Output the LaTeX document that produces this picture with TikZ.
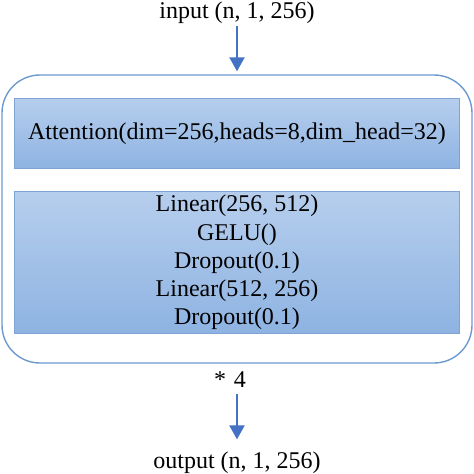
\documentclass[tikz,border=0pt]{standalone}
\usepackage{fontspec}
\setmainfont{Liberation Serif}
\usetikzlibrary{arrows.meta}

\definecolor{framecol}{RGB}{108,153,208}
\definecolor{boxline}{RGB}{126,164,214}
\definecolor{boxtop}{RGB}{182,206,237}
\definecolor{boxbottom}{RGB}{142,179,226}
\definecolor{flowcol}{RGB}{68,114,196}

\begin{document}
\begin{tikzpicture}[
x=1pt,y=1pt,
font=\fontsize{24}{28.3}\selectfont,
layerbox/.style={
draw=boxline,
line width=1pt,
top color=boxtop,
bottom color=boxbottom,
minimum width=445pt,
align=center,
anchor=north
},
label/.style={inner sep=0pt,anchor=base},
flow/.style={
draw=flowcol,
line width=2.4pt,
-{Triangle[width=15pt,length=14pt]}
}
]

\useasboundingbox (-237,219) rectangle (237,-255);

%%%%%%%%%%%%%%%%%%%%%%%%%%%%%%%%%%%%%%%%%%%%%%%%%%%%%%%%%%%%
% OUTER FRAME
%%%%%%%%%%%%%%%%%%%%%%%%%%%%%%%%%%%%%%%%%%%%%%%%%%%%%%%%%%%%

\node[
draw=framecol,
line width=1.4pt,
rounded corners=38pt,
minimum width=470pt,
minimum height=288pt
](frame){};

%%%%%%%%%%%%%%%%%%%%%%%%%%%%%%%%%%%%%%%%%%%%%%%%%%%%%%%%%%%%
% Attention block
%%%%%%%%%%%%%%%%%%%%%%%%%%%%%%%%%%%%%%%%%%%%%%%%%%%%%%%%%%%%

\node[
layerbox,
minimum height=70pt
](attention)
at ([yshift=-24pt]frame.north)
{Attention(dim=256,heads=8,dim\_head=32)};

%%%%%%%%%%%%%%%%%%%%%%%%%%%%%%%%%%%%%%%%%%%%%%%%%%%%%%%%%%%%
% Feed forward block
%%%%%%%%%%%%%%%%%%%%%%%%%%%%%%%%%%%%%%%%%%%%%%%%%%%%%%%%%%%%

\node[
layerbox,
minimum height=139pt
](feedforward)
at ([yshift=-117pt]frame.north)
{Linear(256, 512)\\GELU()\\Dropout(0.1)\\Linear(512, 256)\\Dropout(0.1)};

%%%%%%%%%%%%%%%%%%%%%%%%%%%%%%%%%%%%%%%%%%%%%%%%%%%%%%%%%%%%
% Input / output
%%%%%%%%%%%%%%%%%%%%%%%%%%%%%%%%%%%%%%%%%%%%%%%%%%%%%%%%%%%%

\node[label](input)
at ([yshift=56pt]frame.north)
{input (n, 1, 256)};

\node[label](repeat)
at ([xshift=-7pt,yshift=-24pt]frame.south)
{*\hspace{8pt}4};

\node[label](output)
at ([yshift=-105pt]frame.south)
{output (n, 1, 256)};

\draw[flow,shorten <=2.5pt,shorten >=3pt] (input) -- (frame);
\draw[flow,shorten <=6pt,shorten >=12.5pt] (output |- repeat.south) -- (output.north);

\end{tikzpicture}
\end{document}
